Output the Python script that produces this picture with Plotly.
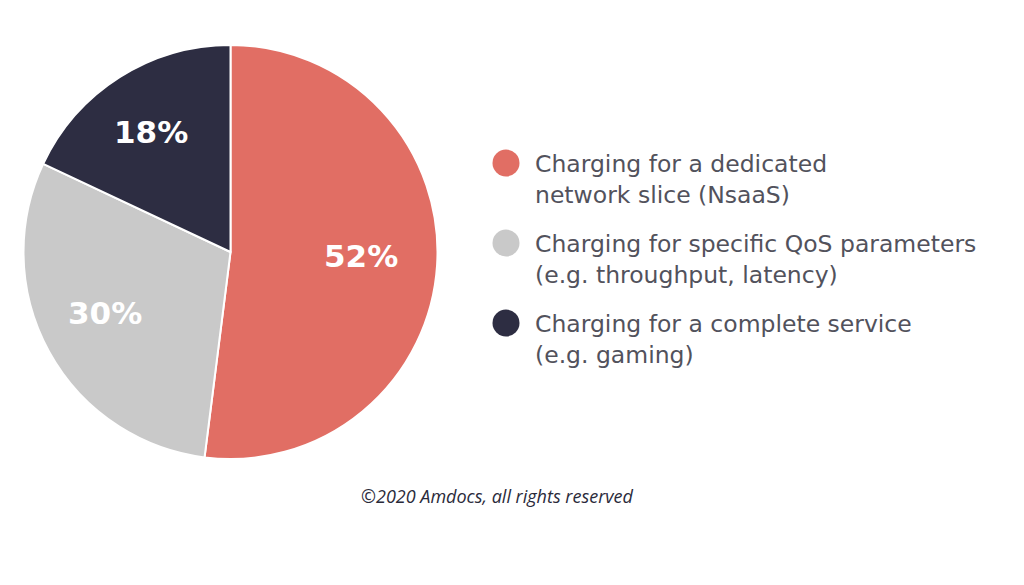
import math
import plotly.graph_objects as go

categories = [
    "Charging for a dedicated<br>network slice (NsaaS)",
    "Charging for specific QoS parameters<br>(e.g. throughput, latency)",
    "Charging for a complete service<br>(e.g. gaming)",
]
values = [52, 30, 18]
colors = ["#E16E64", "#C9C9C9", "#2D2D42"]

# page body has an 8px margin; figure drawn in a 1016x577 box offset by 8px
OFF = 8
W, H = 1016, 577
cx, cy, R = 230.5 - OFF, 252.0 - OFF, 207.0

fig = go.Figure()
fig.add_trace(go.Pie(
    values=values,
    labels=[c.replace("<br>", " ") for c in categories],
    marker=dict(colors=colors, line=dict(color="white", width=2)),
    sort=False,
    direction="clockwise",
    rotation=0,
    textinfo="none",
    hoverinfo="label+percent",
    showlegend=False,
    domain=dict(x=[(cx - R) / W, (cx + R) / W], y=[(H - cy - R) / H, (H - cy + R) / H]),
))

annotations = []
shapes = []
total = sum(values)
cum = 0
for v in values:
    mid = (cum + v / 2) / total * 2 * math.pi
    cum += v
    rr = 0.66 * R
    px = cx + rr * math.sin(mid) - 6
    py = cy - rr * math.cos(mid) - 5
    annotations.append(dict(
        x=px / W, y=1 - py / H, xref="paper", yref="paper",
        text=f"<b>{round(v / total * 100)}%</b>", showarrow=False,
        font=dict(family="DejaVu Sans", size=31, color="white"),
        xanchor="center", yanchor="middle",
    ))

lx, ly0, step, rad = 506 - OFF, 163 - OFF, 80, 13.5
for i, (cat, col) in enumerate(zip(categories, colors)):
    y = ly0 + i * step
    shapes.append(dict(
        type="circle", xref="paper", yref="paper",
        x0=(lx - rad) / W, x1=(lx + rad) / W,
        y0=1 - (y + rad) / H, y1=1 - (y - rad) / H,
        fillcolor=col, line=dict(width=0),
    ))
    annotations.append(dict(
        x=(533 - OFF) / W, y=1 - (y - 15) / H, xref="paper", yref="paper",
        text=cat, showarrow=False, align="left",
        font=dict(family="DejaVu Sans", size=23.5, color="#52525C"),
        xanchor="left", yanchor="top",
    ))

annotations.append(dict(
    x=(497 - OFF) / W, y=1 - (496 - OFF) / H, xref="paper", yref="paper",
    text="<i>©2020 Amdocs, all rights reserved</i>", showarrow=False,
    font=dict(family="Open Sans", size=18, color="#2A2A3A"),
    xanchor="center", yanchor="middle",
))

fig.update_layout(
    width=W, height=H,
    margin=dict(l=0, r=0, t=0, b=0),
    paper_bgcolor="white", plot_bgcolor="white",
    annotations=annotations, shapes=shapes,
)
fig.write_html("out.html")
